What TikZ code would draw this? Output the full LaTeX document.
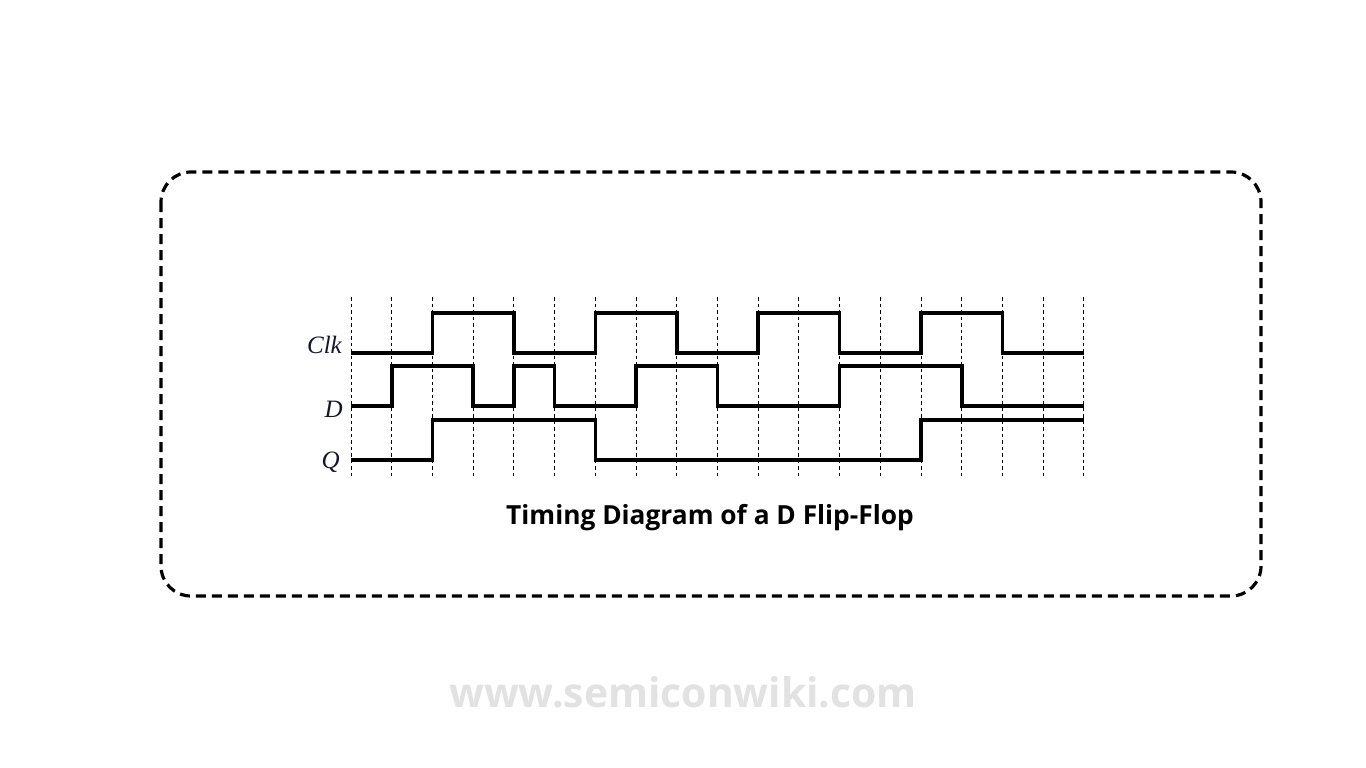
\documentclass[tikz,border=0pt]{standalone}
\usepackage{fontspec}
\setmainfont{Liberation Serif}
\newfontfamily\titlefont{Open Sans}
\usetikzlibrary{calc}
\definecolor{wm}{HTML}{E2E2E2}
\definecolor{lbl}{HTML}{15152E}
\begin{document}
\begin{tikzpicture}[x=1pt,y=-1pt,
  frame/.style={line width=3.2pt,dash pattern=on 10pt off 6pt,rounded corners=30pt},
  grid/.style={line width=1pt,dash pattern=on 3.5pt off 3pt},
  wave/.style={line width=3.6pt,line join=miter,line cap=butt},
  siglabel/.style={anchor=base east,inner sep=0pt,font=\fontsize{25}{25}\selectfont\itshape,text=lbl},
  title/.style={font=\titlefont\bfseries\fontsize{26.3}{30}\selectfont},
  watermark/.style={font=\titlefont\bfseries\fontsize{40.8}{46}\selectfont,text=wm}]
\useasboundingbox (0,0) rectangle (1366,768);
\fill[white] (0,0) rectangle (1366,768);
\draw[frame] (161,172) rectangle (1261,596);
% grid
\foreach \i in {0,...,18}{
  \draw[grid] ({351+\i*40.72},297) -- ({351+\i*40.72},476);
}
\def\dx{40.72}
% Clk
\draw[wave] (351,353) -- ({351+2*\dx},353) -- ({351+2*\dx},313) -- ({351+4*\dx},313) -- ({351+4*\dx},353)
  -- ({351+6*\dx},353) -- ({351+6*\dx},313) -- ({351+8*\dx},313) -- ({351+8*\dx},353)
  -- ({351+10*\dx},353) -- ({351+10*\dx},313) -- ({351+12*\dx},313) -- ({351+12*\dx},353)
  -- ({351+14*\dx},353) -- ({351+14*\dx},313) -- ({351+16*\dx},313) -- ({351+16*\dx},353)
  -- ({351+18*\dx},353);
% D
\draw[wave] (351,406) -- ({351+1*\dx},406) -- ({351+1*\dx},366) -- ({351+3*\dx},366) -- ({351+3*\dx},406)
  -- ({351+4*\dx},406) -- ({351+4*\dx},366) -- ({351+5*\dx},366) -- ({351+5*\dx},406)
  -- ({351+7*\dx},406) -- ({351+7*\dx},366) -- ({351+9*\dx},366) -- ({351+9*\dx},406)
  -- ({351+12*\dx},406) -- ({351+12*\dx},366) -- ({351+15*\dx},366) -- ({351+15*\dx},406)
  -- ({351+18*\dx},406);
% Q
\draw[wave] (351,460) -- ({351+2*\dx},460) -- ({351+2*\dx},420) -- ({351+6*\dx},420) -- ({351+6*\dx},460)
  -- ({351+14*\dx},460) -- ({351+14*\dx},420) -- ({351+18*\dx},420);
% labels
\node[siglabel] (clk) at (342,353) {Clk};
\node[siglabel] (d) at (343,417) {D};
\node[siglabel] (q) at (340,468) {Q};
\node[title] (t) at (710,518) {Timing Diagram of a D Flip-Flop};
\node[watermark] (w) at (683,692) {www.semiconwiki.com};
\end{tikzpicture}
\end{document}
